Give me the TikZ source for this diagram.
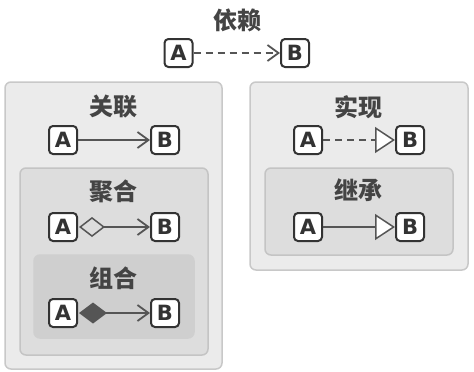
\documentclass[tikz,border=0pt]{standalone}
\usepackage{fontspec}
\setmainfont{DejaVu Sans}
\newfontfamily\cjk{Noto Sans CJK SC}
\usetikzlibrary{arrows.meta}
\definecolor{boxdark}{HTML}{333333}
\definecolor{linegray}{HTML}{555555}
\definecolor{labelgray}{HTML}{444444}
\definecolor{outerfill}{HTML}{EBEBEB}
\definecolor{outerline}{HTML}{C8C8C8}
\definecolor{midfill}{HTML}{DDDDDD}
\definecolor{midline}{HTML}{C4C4C4}
\definecolor{innerfill}{HTML}{CFCFCF}
\tikzset{
  cls/.style={draw=boxdark, fill=white, line width=2pt, rounded corners=4pt,
    minimum width=28pt, minimum height=28pt, inner sep=0pt,
    font=\bfseries\fontsize{21}{21}\selectfont, text=boxdark},
  lbl/.style={font=\cjk\bfseries\fontsize{24}{24}\selectfont, text=labelgray, inner sep=0pt},
  grp/.style={rounded corners=6pt, line width=1.5pt},
  rel/.style={draw=linegray, line width=1.8pt},
  dsh/.style={dash pattern=on 7pt off 5pt},
  barb/.tip={Straight Barb[length=11pt,width=16pt,line width=1.8pt]},
  vtip/.style={-barb},
}
\begin{document}
\begin{tikzpicture}[x=1pt,y=-1pt]
\useasboundingbox (0,0) rectangle (474,372);
% groups
\draw[grp, fill=outerfill, draw=outerline] (5,82) rectangle (222,369);
\draw[grp, fill=midfill, draw=midline] (20,168) rectangle (208,355);
\draw[grp, fill=innerfill, draw=innerfill] (34,255) rectangle (194,338);
\draw[grp, fill=outerfill, draw=outerline] (250,82) rectangle (468,270);
\draw[grp, fill=midfill, draw=midline] (265,168) rectangle (453,255);
% labels
\node[lbl] (t0) at (237,20) {依赖};
\node[lbl] (t1) at (113,107) {关联};
\node[lbl] (t2) at (113,191) {聚合};
\node[lbl] (t3) at (113,278) {组合};
\node[lbl] (t4) at (358,107) {实现};
\node[lbl] (t5) at (358,190) {继承};
% classes
\node[cls] (a0) at (178.5,53) {A};
\node[cls] (b0) at (295,53) {B};
\node[cls] (a1) at (63,140) {A};
\node[cls] (b1) at (165,140) {B};
\node[cls] (a2) at (63,227) {A};
\node[cls] (b2) at (165,227) {B};
\node[cls] (a3) at (63,313) {A};
\node[cls] (b3) at (165,313) {B};
\node[cls] (a4) at (308,140) {A};
\node[cls] (b4) at (410,140) {B};
\node[cls] (a5) at (308,227) {A};
\node[cls] (b5) at (410,227) {B};
% relations
\draw[rel, dsh, vtip] (a0.east) -- (b0.west);
\draw[rel, vtip] (a1.east) -- (b1.west);
\draw[rel, {Diamond[open,length=26pt,width=20pt,line width=1.5pt]}-barb] ([xshift=1pt]a2.east) -- (b2.west);
\draw[rel, {Diamond[fill=linegray,length=28pt,width=21pt]}-barb] ([xshift=1pt]a3.east) -- (b3.west);
\draw[rel, dsh, -{Triangle[open,fill=white,length=20pt,width=26pt,line width=1.5pt]}] (a4.east) -- (b4.west);
\draw[rel, -{Triangle[open,fill=white,length=20pt,width=26pt,line width=1.5pt]}] (a5.east) -- (b5.west);
\end{tikzpicture}
\end{document}
